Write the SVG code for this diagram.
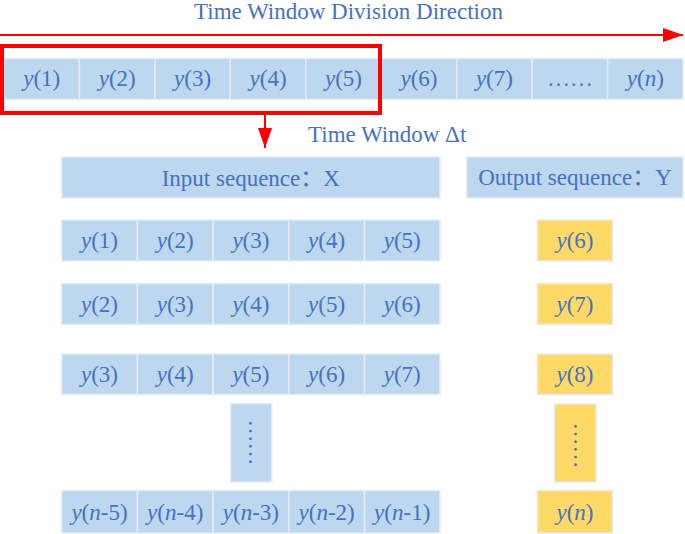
<svg xmlns="http://www.w3.org/2000/svg" width="685" height="534" viewBox="0 0 685 534">
<defs>
<style>
.c{fill:#BDD7EE;stroke:#E6ECF6;stroke-width:1.5}
.yl{fill:#FFD966;stroke:#E6ECF6;stroke-width:1.5}
.t{font-family:"Liberation Serif","Noto Sans CJK SC",serif;font-size:23px;fill:#4472C4;text-anchor:middle}
.i{font-style:italic}
.red{stroke:#FF0000;fill:none}
</style>
<marker id="ah" markerWidth="10" markerHeight="7" refX="10" refY="3.5" orient="auto" markerUnits="userSpaceOnUse" viewBox="0 0 10 7">
<path d="M0,0 L10,3.5 L0,7 Z" fill="#FF0000"/>
</marker>
<marker id="ah2" viewBox="0 0 20 14" refX="20" refY="7" markerWidth="20" markerHeight="14" orient="auto" markerUnits="userSpaceOnUse">
<path d="M0,0 L20,7 L0,14 Z" fill="#FF0000"/>
</marker>
</defs>
<rect width="685" height="534" fill="#FFFFFF"/>

<g id="title"><text class="t" x="348.5" y="19">Time Window Division Direction</text></g>

<g id="toprow">
<rect class="c" x="4" y="58.5" width="75.4" height="41"/>
<rect class="c" x="79.4" y="58.5" width="75.5" height="41"/>
<rect class="c" x="154.9" y="58.5" width="75.4" height="41"/>
<rect class="c" x="230.3" y="58.5" width="75.5" height="41"/>
<rect class="c" x="305.8" y="58.5" width="75.4" height="41"/>
<rect class="c" x="381.2" y="58.5" width="75.5" height="41"/>
<rect class="c" x="456.7" y="58.5" width="75.4" height="41"/>
<rect class="c" x="532.1" y="58.5" width="75.5" height="41"/>
<rect class="c" x="607.6" y="58.5" width="75.4" height="41"/>
<text class="t" x="41.7" y="86"><tspan class="i">y</tspan>(1)</text>
<text class="t" x="117.2" y="86"><tspan class="i">y</tspan>(2)</text>
<text class="t" x="192.6" y="86"><tspan class="i">y</tspan>(3)</text>
<text class="t" x="268.1" y="86"><tspan class="i">y</tspan>(4)</text>
<text class="t" x="343.5" y="86"><tspan class="i">y</tspan>(5)</text>
<text class="t" x="419" y="86"><tspan class="i">y</tspan>(6)</text>
<text class="t" x="494.4" y="86"><tspan class="i">y</tspan>(7)</text>
<text class="t" x="569.9" y="86">……</text>
<text class="t" x="645.3" y="86"><tspan class="i">y</tspan>(<tspan class="i">n</tspan>)</text>
</g>

<g id="window"><rect class="red" x="2" y="46" width="378" height="67" stroke-width="4"/></g>

<g id="connectors">
<line class="red" x1="0" y1="35" x2="683" y2="35" stroke-width="2" marker-end="url(#ah2)"/>
<line class="red" x1="265" y1="113" x2="265" y2="148" stroke-width="2" marker-end="url(#ah2)"/>
</g>

<g id="windowlabel"><text class="t" x="308" y="142" style="text-anchor:start">Time Window Δt</text></g>

<g id="input"><rect class="c" x="61.7" y="157" width="378.3" height="41"/>
<text class="t" x="250.8" y="186">Input sequence：X</text></g>
<g id="output"><rect class="c" x="466.7" y="157" width="216.3" height="41"/>
<text class="t" x="575" y="185">Output sequence：Y</text></g>

<g id="row1">
<rect class="c" x="61.7" y="220" width="75.7" height="41"/>
<rect class="c" x="137.4" y="220" width="75.7" height="41"/>
<rect class="c" x="213.1" y="220" width="75.7" height="41"/>
<rect class="c" x="288.8" y="220" width="75.7" height="41"/>
<rect class="c" x="364.5" y="220" width="75.5" height="41"/>
<text class="t" x="99.5" y="248"><tspan class="i">y</tspan>(1)</text>
<text class="t" x="175.2" y="248"><tspan class="i">y</tspan>(2)</text>
<text class="t" x="250.9" y="248"><tspan class="i">y</tspan>(3)</text>
<text class="t" x="326.6" y="248"><tspan class="i">y</tspan>(4)</text>
<text class="t" x="402.2" y="248"><tspan class="i">y</tspan>(5)</text>
</g>
<g id="out1"><rect class="yl" x="537.3" y="220" width="75.4" height="41"/>
<text class="t" x="575" y="248"><tspan class="i">y</tspan>(6)</text></g>

<g id="row2">
<rect class="c" x="61.7" y="283.5" width="75.7" height="41"/>
<rect class="c" x="137.4" y="283.5" width="75.7" height="41"/>
<rect class="c" x="213.1" y="283.5" width="75.7" height="41"/>
<rect class="c" x="288.8" y="283.5" width="75.7" height="41"/>
<rect class="c" x="364.5" y="283.5" width="75.5" height="41"/>
<text class="t" x="99.5" y="311.5"><tspan class="i">y</tspan>(2)</text>
<text class="t" x="175.2" y="311.5"><tspan class="i">y</tspan>(3)</text>
<text class="t" x="250.9" y="311.5"><tspan class="i">y</tspan>(4)</text>
<text class="t" x="326.6" y="311.5"><tspan class="i">y</tspan>(5)</text>
<text class="t" x="402.2" y="311.5"><tspan class="i">y</tspan>(6)</text>
</g>
<g id="out2"><rect class="yl" x="537.3" y="283.5" width="75.4" height="41"/>
<text class="t" x="575" y="311.5"><tspan class="i">y</tspan>(7)</text></g>

<g id="row3">
<rect class="c" x="61.7" y="354" width="75.7" height="40.5"/>
<rect class="c" x="137.4" y="354" width="75.7" height="40.5"/>
<rect class="c" x="213.1" y="354" width="75.7" height="40.5"/>
<rect class="c" x="288.8" y="354" width="75.7" height="40.5"/>
<rect class="c" x="364.5" y="354" width="75.5" height="40.5"/>
<text class="t" x="99.5" y="381.5"><tspan class="i">y</tspan>(3)</text>
<text class="t" x="175.2" y="381.5"><tspan class="i">y</tspan>(4)</text>
<text class="t" x="250.9" y="381.5"><tspan class="i">y</tspan>(5)</text>
<text class="t" x="326.6" y="381.5"><tspan class="i">y</tspan>(6)</text>
<text class="t" x="402.2" y="381.5"><tspan class="i">y</tspan>(7)</text>
</g>
<g id="out3"><rect class="yl" x="537.3" y="354" width="75.4" height="40.5"/>
<text class="t" x="575" y="381.5"><tspan class="i">y</tspan>(8)</text></g>

<g id="dotsin"><rect class="c" x="230.7" y="403.5" width="41" height="78.5"/>
<text class="t" transform="translate(249,442.5) rotate(90)" x="0" y="0">……</text></g>
<g id="dotsout"><rect class="yl" x="554.5" y="404" width="41.5" height="78"/>
<text class="t" transform="translate(573.5,445.5) rotate(90)" x="0" y="0">……</text></g>

<g id="rown">
<rect class="c" x="61.7" y="490.5" width="75.7" height="42.5"/>
<rect class="c" x="137.4" y="490.5" width="75.7" height="42.5"/>
<rect class="c" x="213.1" y="490.5" width="75.7" height="42.5"/>
<rect class="c" x="288.8" y="490.5" width="75.7" height="42.5"/>
<rect class="c" x="364.5" y="490.5" width="75.5" height="42.5"/>
<text class="t" x="99.5" y="519.5"><tspan class="i">y</tspan>(<tspan class="i">n</tspan>-5)</text>
<text class="t" x="175.2" y="519.5"><tspan class="i">y</tspan>(<tspan class="i">n</tspan>-4)</text>
<text class="t" x="250.9" y="519.5"><tspan class="i">y</tspan>(<tspan class="i">n</tspan>-3)</text>
<text class="t" x="326.6" y="519.5"><tspan class="i">y</tspan>(<tspan class="i">n</tspan>-2)</text>
<text class="t" x="402.2" y="519.5"><tspan class="i">y</tspan>(<tspan class="i">n</tspan>-1)</text>
</g>
<g id="outn"><rect class="yl" x="537.3" y="490.5" width="75.4" height="42.5"/>
<text class="t" x="575" y="519.5"><tspan class="i">y</tspan>(<tspan class="i">n</tspan>)</text></g>
</svg>
